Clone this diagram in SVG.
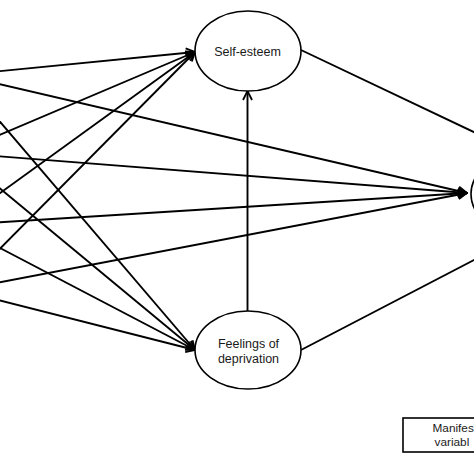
<svg xmlns="http://www.w3.org/2000/svg" width="474" height="474" viewBox="0 0 474 474">
<style>
.edge{fill:none;stroke:#000;stroke-width:1.9;marker-end:url(#arr)}
.node{fill:#fff;stroke:#000;stroke-width:1.6}
.lbl{font-family:"Liberation Sans",Arial,Helvetica,sans-serif;font-size:12.5px;fill:#1a1a1a;text-anchor:middle}
.leg{font-family:"Liberation Sans",Arial,Helvetica,sans-serif;font-size:11.8px;fill:#1a1a1a}
</style>
<defs>
<marker id="arr" markerUnits="userSpaceOnUse" markerWidth="12" markerHeight="12" viewBox="0 0 12 12" refX="11" refY="6" orient="auto">
<path d="M2,1.5 L11,6 L2,10.5" fill="none" stroke="#000" stroke-width="1.8"/>
</marker>
</defs>
<rect width="474" height="474" fill="#fff"/>
<g id="connectors">
<line class="edge" x1="-40" y1="75" x2="195" y2="52"/>
<line class="edge" x1="-40" y1="75" x2="195" y2="350"/>
<line class="edge" x1="-40" y1="75" x2="467" y2="193"/>
<line class="edge" x1="-43" y1="153" x2="195" y2="52"/>
<line class="edge" x1="-43" y1="153" x2="195" y2="350"/>
<line class="edge" x1="-43" y1="153" x2="467" y2="193"/>
<line class="edge" x1="-44" y1="225" x2="195" y2="52"/>
<line class="edge" x1="-44" y1="225" x2="195" y2="350"/>
<line class="edge" x1="-44" y1="225" x2="467" y2="193"/>
<line class="edge" x1="-41" y1="290" x2="195" y2="52"/>
<line class="edge" x1="-41" y1="290" x2="195" y2="350"/>
<line class="edge" x1="-41" y1="290" x2="467" y2="193"/>
<line class="edge" x1="247.5" y1="311" x2="247.5" y2="91"/>
<line class="edge" x1="301" y1="50" x2="520" y2="154"/>
<line class="edge" x1="301" y1="350" x2="524" y2="234"/>
</g>
<g id="self-esteem">
<ellipse class="node" cx="248" cy="51" rx="53" ry="40"/>
<text class="lbl" x="247.5" y="56">Self-esteem</text>
</g>
<g id="deprivation">
<ellipse class="node" cx="248" cy="350" rx="53" ry="39"/>
<text class="lbl" x="248.5" y="348">Feelings of</text>
<text class="lbl" x="248.5" y="363">deprivation</text>
</g>
<g id="outcome">
<ellipse class="node" cx="524" cy="194" rx="53" ry="40"/>
</g>
<g id="legend">
<rect x="403" y="418" width="106" height="34" fill="#fff" stroke="#000" stroke-width="1.6"/>
<text class="leg" x="432.5" y="432">Manifes</text>
<text class="leg" x="434.5" y="446">variabl</text>
</g>
</svg>
